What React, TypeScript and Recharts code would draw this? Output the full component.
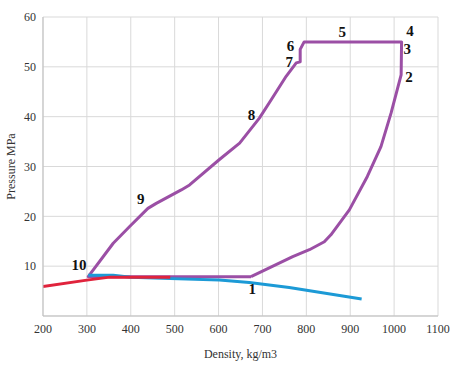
import { ComposedChart, Line, Scatter, XAxis, YAxis, CartesianGrid } from "recharts"

// purple cycle, in drawing order (1 -> 2 -> ... -> 10 -> 1)
const cycle = [
  { x: 674, y: 7.9 }, { x: 769, y: 11.9 }, { x: 807, y: 13.3 }, { x: 841, y: 14.9 },
  { x: 856, y: 16.3 }, { x: 898, y: 21.3 }, { x: 939, y: 28 }, { x: 970, y: 34 },
  { x: 993, y: 40.7 }, { x: 1016, y: 48.4 }, { x: 1017, y: 55 }, { x: 795, y: 55 },
  { x: 786, y: 53.5 }, { x: 786, y: 51 }, { x: 777, y: 50.8 }, { x: 754, y: 48.1 },
  { x: 720, y: 43.4 }, { x: 693, y: 39.7 }, { x: 648, y: 34.7 }, { x: 602, y: 31.4 },
  { x: 534, y: 26.3 }, { x: 515, y: 25.3 }, { x: 458, y: 22.6 }, { x: 439, y: 21.6 },
  { x: 398, y: 18 }, { x: 360, y: 14.6 }, { x: 303, y: 7.9 }, { x: 674, y: 7.9 },
]

const blueLine = [
  { x: 303, y: 8.2 }, { x: 360, y: 8.2 }, { x: 400, y: 7.8 }, { x: 490, y: 7.5 },
  { x: 602, y: 7.2 }, { x: 670, y: 6.7 }, { x: 761, y: 5.7 }, { x: 926, y: 3.4 },
]

const redLine = [
  { x: 200, y: 5.9 }, { x: 300, y: 7.2 }, { x: 352, y: 7.8 }, { x: 490, y: 7.8 },
]

const pointLabels = [
  { x: 677, y: 5.4, t: "1" }, { x: 1034, y: 48, t: "2" }, { x: 1030, y: 53.5, t: "3" },
  { x: 1036, y: 57.2, t: "4" }, { x: 882, y: 56.9, t: "5" }, { x: 764, y: 54.1, t: "6" },
  { x: 761, y: 50.9, t: "7" }, { x: 675, y: 40.4, t: "8" }, { x: 423, y: 23.5, t: "9" },
  { x: 282, y: 10.3, t: "10" },
]

const xTicks = [200, 300, 400, 500, 600, 700, 800, 900, 1000, 1100]
const yTicks = [10, 20, 30, 40, 50, 60]

const font = "'Liberation Serif', 'Times New Roman', serif"
const textColor = "#333"
const tickStyle = { fontSize: 12, fill: textColor, fontFamily: font }

const PointLabel = (props: any) => (
  <text x={props.cx} y={props.cy} textAnchor="middle" dominantBaseline="central"
    fontFamily={font} fontSize={15} fontWeight="bold" fill="#111">
    {props.payload.t}
  </text>
)

const YTitle = (props: any) => {
  const vb = props.viewBox
  const x = vb.x + 11
  const y = vb.y + vb.height / 2
  return (
    <text x={x} y={y} transform={`rotate(-90 ${x} ${y})`} textAnchor="middle"
      dominantBaseline="central" fontFamily={font} fontSize={12} fill={textColor}>
      Pressure MPa
    </text>
  )
}

export default function App() {
  return (
    <div style={{ position: "absolute", left: 0, top: 0, background: "#fff" }}>
      <ComposedChart width={459} height={370} margin={{ top: 17, right: 21, left: 0, bottom: 0 }}>
        <CartesianGrid stroke="#d9d9d9" strokeWidth={1} />
        <XAxis type="number" dataKey="x" domain={[200, 1100]} ticks={xTicks}
          allowDataOverflow height={54} tickSize={0} tickMargin={8}
          stroke="#bfbfbf" tick={tickStyle}
          label={{ value: "Density, kg/m3", position: "insideBottom", offset: 12, fontSize: 12, fill: textColor, fontFamily: font }} />
        <YAxis type="number" domain={[0, 60]} ticks={yTicks} allowDataOverflow
          width={43} tickSize={0} tickMargin={7} stroke="#bfbfbf" tick={tickStyle}
          label={{ content: YTitle }} />
        <Line data={cycle} dataKey="y" type="linear" stroke="#9b4fa5" strokeWidth={3}
          dot={false} isAnimationActive={false} strokeLinejoin="round" />
        <Line data={blueLine} dataKey="y" type="linear" stroke="#1c9ad6" strokeWidth={3}
          dot={false} isAnimationActive={false} />
        <Line data={redLine} dataKey="y" type="linear" stroke="#e0233c" strokeWidth={3}
          dot={false} isAnimationActive={false} />
        <Scatter data={pointLabels} dataKey="y" shape={PointLabel} isAnimationActive={false} />
      </ComposedChart>
    </div>
  )
}
